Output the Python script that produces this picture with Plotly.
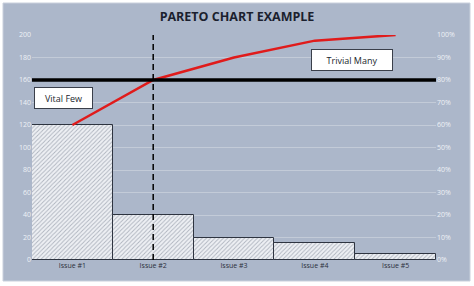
import plotly.graph_objects as go

categories = ["Issue #1", "Issue #2", "Issue #3", "Issue #4", "Issue #5"]
counts = [120, 40, 20, 15, 5]
left_ticks = [0, 20, 40, 60, 80, 100, 120, 140, 160, 180, 200]
right_ticks = [0, 0.1, 0.2, 0.3, 0.4, 0.5, 0.6, 0.7, 0.8, 0.9, 1.0]
threshold = 0.8

total = sum(counts)
cum = []
s = 0
for c in counts:
    s += c
    cum.append(s / total)
cut_idx = next(i for i, v in enumerate(cum) if v >= threshold)

W, H = 474, 286
ml, mr, mt, mb = 32, 38, 35, 26
pw, ph = W - ml - mr, H - mt - mb

def px_x(p):
    return (p - ml) / pw

def px_y(p):
    return (H - mb - p) / ph

BG = "#acb7ca"
GRID = "#c3cbd8"
TICK = "#eef1f6"

fig = go.Figure()
fig.add_trace(go.Bar(
    x=categories, y=counts,
    marker=dict(
        color="#eef0f4",
        line=dict(color="#2e3440", width=1),
        pattern=dict(shape="/", fgcolor="#6f7888", bgcolor="#eef0f4", size=3, solidity=0.3),
    ),
    width=1.0,
    showlegend=False,
))
fig.add_trace(go.Scatter(
    x=categories, y=cum, yaxis="y2", mode="lines",
    line=dict(color="#e01b1b", width=2.5), showlegend=False,
))

fig.update_layout(
    width=W, height=H,
    margin=dict(l=ml, r=mr, t=mt, b=mb),
    paper_bgcolor="white",
    plot_bgcolor="rgba(0,0,0,0)",
    bargap=0,
    font=dict(family="Open Sans", size=7, color=TICK),
    title=dict(text="<b>PARETO CHART EXAMPLE</b>", x=0.5, xanchor="center",
               y=1 - 17 / H, yanchor="middle",
               font=dict(family="Open Sans", size=12.5, color="#1b1f2e")),
    xaxis=dict(type="category", showgrid=False, showline=False, ticks="",
               tickfont=dict(color="#2b2f3a", size=7), range=[-0.5, 4.5]),
    yaxis=dict(range=[0, 200], tickvals=left_ticks, showgrid=True, gridcolor=GRID,
               gridwidth=1, zeroline=False, showline=False, ticks="",
               tickfont=dict(color=TICK, size=7)),
    yaxis2=dict(range=[0, 1], overlaying="y", side="right", tickvals=right_ticks,
                tickformat=".0%", showgrid=False, zeroline=False, showline=False,
                tickfont=dict(color=TICK, size=7)),
    shapes=[
        dict(type="rect", xref="paper", yref="paper", layer="below",
             x0=px_x(3), x1=px_x(470), y0=px_y(281), y1=px_y(3),
             fillcolor=BG, line=dict(color="#c9d0dc", width=1)),
        dict(type="line", xref="paper", yref="y2", x0=0, x1=1, y0=threshold, y1=threshold,
             line=dict(color="black", width=3.5)),
        dict(type="line", xref="x", yref="y", x0=cut_idx, x1=cut_idx, y0=0, y1=200,
             line=dict(color="black", width=1.5, dash="6px,4px")),
    ],
    annotations=[
        dict(text="Vital Few", xref="paper", yref="paper", x=px_x(63), y=px_y(98),
             xanchor="center", yanchor="middle",
             showarrow=False, bgcolor="white", bordercolor="#3a3f4a", borderwidth=1,
             width=55, height=18, font=dict(family="Open Sans", size=9, color="#1b1f2e")),
        dict(text="Trivial Many", xref="paper", yref="paper", x=px_x(352), y=px_y(60),
             xanchor="center", yanchor="middle",
             showarrow=False, bgcolor="white", bordercolor="#3a3f4a", borderwidth=1,
             width=78, height=18, font=dict(family="Open Sans", size=9, color="#1b1f2e")),
    ],
)

fig.write_html("out.html")
